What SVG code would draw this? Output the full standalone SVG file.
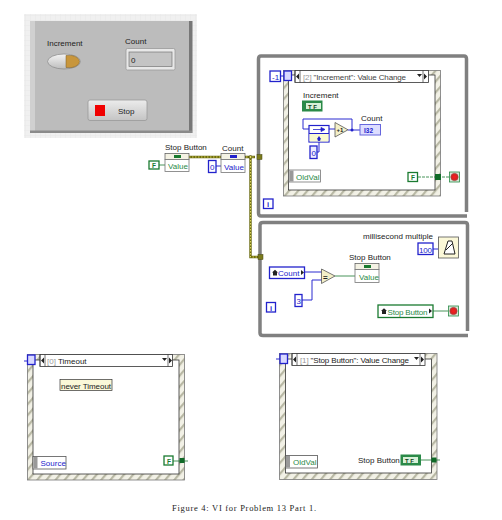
<svg xmlns="http://www.w3.org/2000/svg" width="502" height="520" viewBox="0 0 502 520">
<style>
text{font-family:"Liberation Sans",Arial,sans-serif;font-size:8px;fill:#222}
.loop{fill:none;stroke:#808080;stroke-width:3.5}
.hatch{fill:url(#hatch);stroke:#777;stroke-width:.8}
.inner{fill:#fff;stroke:#333;stroke-width:.8}
.sel{fill:#fff;stroke:#333;stroke-width:.8}
.blue{fill:#fff;stroke:#2222cc;stroke-width:1.3}
.green{fill:#fff;stroke:#1a7a30;stroke-width:1.3}
.w-b{fill:none;stroke:#2a2ad0;stroke-width:1}
.w-g{fill:none;stroke:#1a7a30;stroke-width:.8}
.w-e{fill:none;stroke:#6b6b10;stroke-width:2.4}
.w-e2{fill:none;stroke:#e8e060;stroke-width:.9;stroke-dasharray:1.5 1.5}
.tun{fill:#7b7b1c;stroke:#444410;stroke-width:.5}
.tung{fill:#106a28}
.prop{fill:#fff;stroke:#777;stroke-width:.8}
</style>
<defs>
<pattern id="hatch" width="7" height="7" patternUnits="userSpaceOnUse" patternTransform="rotate(40)">
<rect width="7" height="7" fill="#f2f1e6"/><rect width="2.200" height="7" fill="#b8b8a4"/>
</pattern>
<pattern id="grid" width="5" height="5" patternUnits="userSpaceOnUse">
<rect width="5" height="5" fill="#f0f0f0"/><path d="M0 0H5M0 0V5" stroke="#e2e2e2" stroke-width=".6"/>
</pattern>
<linearGradient id="pill" x1="0" y1="0" x2="0" y2="1"><stop offset="0" stop-color="#f4f4f4"/><stop offset="1" stop-color="#bdbdbd"/></linearGradient>
<linearGradient id="btn" x1="0" y1="0" x2="0" y2="1"><stop offset="0" stop-color="#ececec"/><stop offset="1" stop-color="#c4c4c4"/></linearGradient>
<g id="stopIcon"><rect x="-5" y="-5" width="10" height="10" fill="#d8e8d8" stroke="#2a8a48" stroke-width=".8"/><circle r="3.600" fill="#e02020" stroke="#a04040" stroke-width=".8"/><circle r="1.500" fill="#f02020"/></g>
<g id="propHead"><rect width="24" height="6" fill="#f4f2e4" stroke="#555" stroke-width=".7"/><rect x="9" y="1.500" width="7" height="3"/></g>
</defs>

<g id="front-panel">
<rect x="24" y="14" width="173" height="124" fill="url(#grid)"/>
<rect x="30" y="21" width="162" height="112" fill="#bcbcbc"/>
<rect x="30" y="21" width="5" height="112" fill="#d0d0d0"/>
<rect x="189" y="21" width="3.500" height="112" fill="#777"/>
<rect x="30" y="130.500" width="162" height="2.500" fill="#8a8a8a"/>
<text x="47" y="45.500">Increment</text>
<text x="125" y="44">Count</text>
<ellipse cx="64" cy="61.500" rx="16.500" ry="7.500" fill="url(#pill)" stroke="#888" stroke-width=".7"/>
<path d="M66 55.500H72Q79 57 79.500 61.500Q79 66 72 67.500H66Z" fill="#c8963c" stroke="#7a5a20" stroke-width=".5"/>
<rect x="126" y="48.500" width="49" height="21.500" rx="1.500" fill="#e8e8e8" stroke="#999" stroke-width=".8"/>
<rect x="129" y="52" width="43" height="14.500" fill="#c4c4c4" stroke="#777" stroke-width=".7"/>
<text x="131" y="62.500">0</text>
<rect x="88" y="100" width="59" height="20.500" rx="2" fill="url(#btn)" stroke="#999" stroke-width=".8"/>
<rect x="95" y="105" width="10" height="11" fill="#f00000"/>
<text x="118" y="114">Stop</text>
</g>

<g id="while-loop-1"><path class="loop" d="M467 216H261Q258.500 216 258.500 213V59Q258.500 56 261 56H464Q466.500 56 466.500 59V212"/></g>
<g id="while-loop-2"><path class="loop" d="M468 335.500H263Q260 335.500 260 333V225Q260 222.500 263 222.500H465Q467.500 222.500 467.500 225V331"/></g>

<g id="frame-event-2">
<rect class="hatch" x="283.500" y="70.500" width="157" height="125.500"/>
<rect class="inner" x="288.500" y="75" width="146.500" height="115"/>
</g>
<g id="frame-event-0">
<rect class="hatch" x="27.500" y="354.500" width="157" height="125.500"/>
<rect class="inner" x="33" y="360" width="146" height="114"/>
</g>
<g id="frame-event-1">
<rect class="hatch" x="279.500" y="353.500" width="157.500" height="126"/>
<rect class="inner" x="285.500" y="359" width="146" height="114"/>
</g>

<g id="connectors">
<path class="w-e" d="M189 157H255"/><path class="w-e2" d="M189 157H255"/>
<path class="w-e" d="M250.500 157V257H258"/><path class="w-e2" d="M250.500 157V257H258"/>
<circle cx="250.500" cy="157" r="1.500" fill="#e8e060" stroke="#444410" stroke-width=".7"/>
<path class="w-g" d="M159 165H165"/>
<path class="w-b" d="M216 166H221"/>
<path class="w-b" d="M281 76H284"/>
<path class="w-g" d="M418 177H449" stroke-dasharray="3 1"/>
<path class="w-b" d="M329 129H335"/>
<path class="w-b" d="M309 129H303V119H352V130"/>
<path class="w-b" d="M348 130H360"/>
<path class="w-b" d="M317 152H319V139"/>
<path class="w-b" d="M305 272H322"/>
<path class="w-b" d="M302 300H312V280H322"/>
<path class="w-g" d="M335 276H355"/>
<path class="w-g" d="M433 311H448"/>
<path class="w-b" d="M433 249H438"/>
<path class="w-g" d="M173 461H188"/>
<path class="w-b" d="M24 361H28"/>
<path class="w-g" d="M421 460H440"/>
<path class="w-b" d="M276 359H280"/>
</g>

<g id="tunnels">
<rect class="tun" x="257" y="154.500" width="5" height="5"/>
<rect class="tun" x="258" y="254.500" width="5" height="5"/>
<rect class="tung" x="435" y="174" width="6" height="6"/>
<rect class="tung" x="179.500" y="458" width="5" height="5"/>
<rect class="tung" x="431.500" y="457.500" width="5" height="5"/>
</g>

<g id="stop-button-node">
<text x="165" y="150">Stop Button</text>
<use href="#propHead" x="165" y="153.500" fill="#1a7a30"/>
<rect class="prop" x="165" y="159.500" width="24" height="12"/>
<text x="168" y="169" style="fill:#2a8a48">Value</text>
<rect x="149" y="161" width="10" height="8" class="green"/>
<text x="152" y="168" font-size="6.500" style="font-size:6.500px;fill:#1a7a30;font-weight:bold">F</text>
</g>
<g id="count-node">
<text x="222" y="151">Count</text>
<use href="#propHead" x="221" y="153.500" fill="#2222cc"/>
<rect class="prop" x="221" y="159.500" width="24" height="13"/>
<text x="224" y="169.500" style="fill:#2222cc">Value</text>
<rect x="208.500" y="160.500" width="7.500" height="12" class="blue"/>
<text x="210" y="169.500" style="fill:#2222cc">0</text>
</g>

<g id="event-struct-2">
<rect class="sel" x="295" y="70.500" width="133.500" height="12"/>
<path d="M295 70.500V82.500M300 70.500V82.500M423 70.500V82.500" stroke="#333" stroke-width=".7"/>
<text x="303" y="80" textLength="103" style="fill:#444"><tspan style="fill:#999">[2]</tspan> "Increment": Value Change</text>
<path d="M296 76.500L299 73.500V79.500ZM424 73.500L427 76.500L424 79.500ZM417 74H422L419.500 77Z" fill="#222"/>
<rect x="284" y="71" width="7.500" height="9.500" class="blue" style="fill:#d8d8ff"/>
<rect x="270" y="71" width="10.500" height="10.500" class="blue"/>
<text x="272" y="79.500" style="fill:#2222cc">-1</text>
<text x="303" y="98">Increment</text>
<rect x="302" y="100.500" width="20.500" height="11" fill="#2a8a48"/>
<rect x="306" y="103" width="15" height="6" fill="#d8f0d8"/>
<text x="308" y="108.500" style="font-size:6px;fill:#104020;font-weight:bold">T F</text>
<rect x="309" y="125.500" width="20" height="16.500" fill="#fff" stroke="#2222cc" stroke-width="1.200"/>
<rect x="309.500" y="134" width="19" height="7.500" fill="#fafad0"/>
<path d="M309 133.500H329" stroke="#2222cc"/>
<path d="M313 129.500H324M321 127.500L325 129.500L321 131.500Z" stroke="#2222cc" stroke-width=".8" fill="#2222cc"/>
<path d="M317 139L319 136L321 139Z" fill="#2222cc"/>
<circle cx="319" cy="139.500" r="1.500" fill="#2222cc"/>
<rect x="310" y="146" width="7" height="12.500" class="blue" style="fill:#eeeeff"/>
<text x="311.500" y="155.500" style="fill:#2222cc">0</text>
<path d="M335 122.500V137L348 129.800Z" fill="#f4f0c8" stroke="#555" stroke-width=".8"/>
<text x="336.500" y="132" style="font-size:6px;font-weight:bold">+1</text>
<circle cx="352" cy="130" r="1.500" fill="#2222cc"/>
<text x="361" y="121">Count</text>
<rect x="360" y="124.500" width="20.500" height="10.500" fill="#ddddff" stroke="#6666dd" stroke-width="1"/>
<text x="364" y="132.500" style="font-size:6.500px;fill:#2222cc;font-weight:bold">I32</text>
<rect x="289" y="170" width="31.500" height="12" fill="#fff" stroke="#777" stroke-width=".8"/>
<rect x="289.500" y="170.500" width="4" height="11" fill="#999"/>
<text x="296" y="179.500" style="fill:#2a8a48">OldVal</text>
<rect x="408" y="172.500" width="9.500" height="9" class="green"/>
<text x="411" y="180" style="font-size:6.500px;fill:#1a7a30;font-weight:bold">F</text>
<use href="#stopIcon" x="454.500" y="177"/>
<rect x="263.500" y="199" width="9.500" height="9.500" class="blue"/>
<text x="267" y="207" style="font-size:7.500px;fill:#2222cc;font-weight:bold">i</text>
</g>

<g id="loop-2-contents">
<text x="363" y="239" textLength="70">millisecond multiple</text>
<rect x="418" y="243" width="15" height="11.500" class="blue"/>
<text x="419" y="252.500" textLength="13" style="fill:#2222cc">100</text>
<rect x="438.500" y="237" width="20" height="21" fill="#fbf8d8" stroke="#555" stroke-width=".8"/>
<path d="M444 254L448 241L452 241L455 254Z" fill="#fff" stroke="#222" stroke-width="1"/>
<path d="M446 250L453 243" stroke="#222"/>
<rect x="269.500" y="267" width="35" height="11.500" class="blue"/>
<path d="M272 272.500L275 269.800L278 272.500H277V275.500H273V272.500Z" fill="#222"/>
<text x="278" y="276" style="fill:#2222cc">Count</text>
<path d="M301 270L304 272.500L301 275Z" fill="#222"/>
<path d="M321.500 269V283.500L335 276Z" fill="#f4f0c8" stroke="#555" stroke-width=".8"/>
<text x="323" y="279.500" style="font-weight:bold">=</text>
<text x="349" y="260">Stop Button</text>
<use href="#propHead" x="355" y="263.500" fill="#1a7a30"/>
<rect class="prop" x="355" y="269.500" width="24" height="13"/>
<text x="359" y="279.500" style="fill:#2a8a48">Value</text>
<rect x="295" y="294.500" width="7" height="12" class="blue"/>
<text x="296.500" y="304" style="fill:#2222cc">3</text>
<rect x="266.500" y="302.500" width="9" height="9.500" class="blue"/>
<text x="270" y="310.500" style="font-size:7.500px;fill:#2222cc;font-weight:bold">i</text>
<rect x="378" y="305" width="55" height="12.500" class="green"/>
<path d="M381 311L384 308.200L387 311H386V314H382V311Z" fill="#222"/>
<text x="387.500" y="314.500" textLength="40" style="fill:#2a8a48">Stop Button</text>
<path d="M429 308.500L432 311L429 313.500Z" fill="#222"/>
<use href="#stopIcon" x="453.500" y="311"/>
</g>

<g id="event-struct-0">
<rect class="sel" x="40" y="354.500" width="132.500" height="12"/>
<path d="M40 354.500V366.500M45 354.500V366.500M168 354.500V366.500" stroke="#333" stroke-width=".7"/>
<text x="47" y="364"><tspan style="fill:#999">[0]</tspan> Timeout</text>
<path d="M41 360.500L44 357.500V363.500ZM169 357.500L172 360.500L169 363.500ZM162 358H167L164.500 361Z" fill="#222"/>
<rect x="27.500" y="355" width="7.500" height="9.500" class="blue" style="fill:#d8d8ff"/>
<rect x="60" y="379.500" width="52" height="11" fill="#fbf8d8" stroke="#333" stroke-width=".7"/>
<text x="61" y="388.500" textLength="50">never Timeout</text>
<rect x="33" y="456.500" width="33" height="12.500" fill="#fff" stroke="#555" stroke-width=".8"/>
<rect x="33.500" y="457" width="4" height="11.500" fill="#999"/>
<text x="40.500" y="465.500" style="fill:#2222cc">Source</text>
<rect x="164" y="456" width="9" height="9" class="green"/>
<text x="167" y="463.500" style="font-size:6.500px;fill:#1a7a30;font-weight:bold">F</text>
</g>

<g id="event-struct-1">
<rect class="sel" x="292" y="353.500" width="133" height="12"/>
<path d="M292 353.500V365.500M297 353.500V365.500M420 353.500V365.500" stroke="#333" stroke-width=".7"/>
<text x="300" y="363" textLength="109"><tspan style="fill:#999">[1]</tspan> "Stop Button": Value Change</text>
<path d="M293 359.500L296 356.500V362.500ZM421 356.500L424 359.500L421 362.500ZM414 357H419L416.500 360Z" fill="#222"/>
<rect x="280" y="354" width="7.500" height="9.500" class="blue" style="fill:#d8d8ff"/>
<rect x="285.500" y="455.500" width="32" height="12.500" fill="#fff" stroke="#555" stroke-width=".8"/>
<rect x="286" y="456" width="4" height="11.500" fill="#999"/>
<text x="293" y="464.500" style="fill:#2a8a48">OldVal</text>
<text x="358" y="463">Stop Button</text>
<rect x="400.500" y="454.500" width="20.500" height="11" fill="#2a8a48"/>
<rect x="403" y="457" width="15" height="6" fill="#d8f0d8"/>
<text x="405" y="462.500" style="font-size:6px;fill:#104020;font-weight:bold">T F</text>
</g>

<text id="caption" x="172" y="511" textLength="144" style="font-family:'Liberation Serif','Times New Roman',serif;font-size:8.500px;fill:#222">Figure 4: VI for Problem 13 Part 1.</text>
</svg>
